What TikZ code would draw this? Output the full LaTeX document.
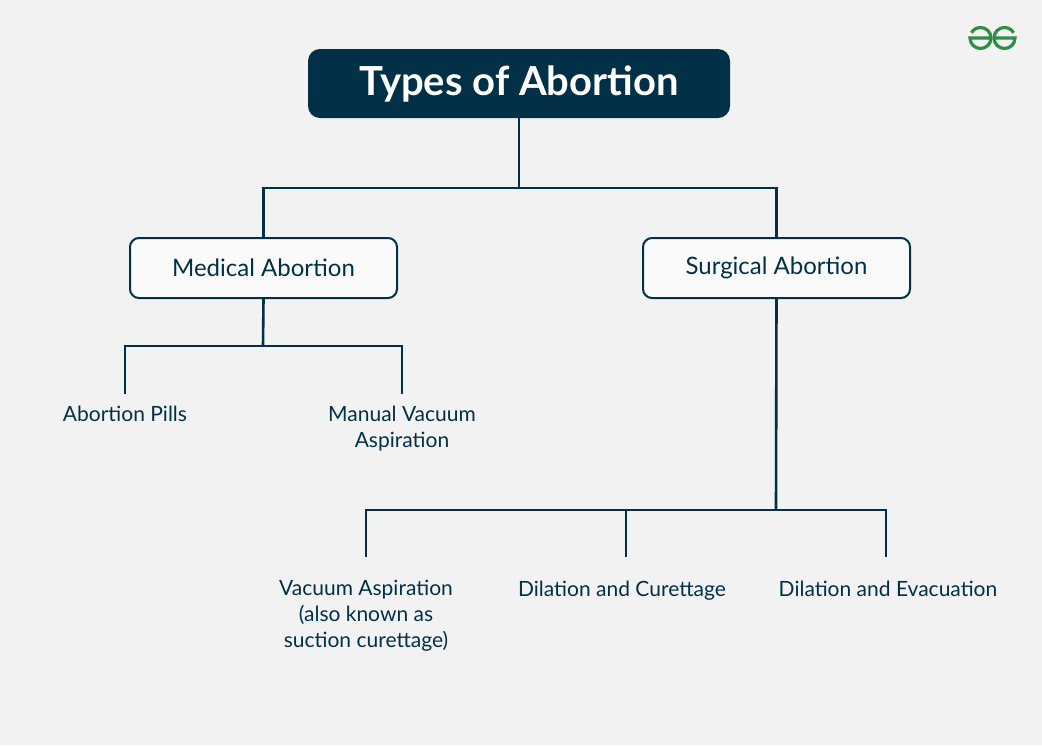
\documentclass[tikz,border=0pt]{standalone}
\usepackage{fontspec}
\setmainfont{Lato}
\definecolor{navy}{HTML}{023047}
\definecolor{bg}{HTML}{F2F2F2}
\definecolor{gfg}{HTML}{2F8D46}
\begin{document}
\begin{tikzpicture}[x=1pt,y=-1pt,
  ln/.style={navy,line width=2.6pt},
  box/.style={draw=navy,line width=2pt,rounded corners=9pt,fill=white!60!bg,minimum width=267pt,minimum height=60pt,font=\fontsize{24}{28}\selectfont,text=navy,inner sep=0},
  lbl/.style={text=navy,font=\fontsize{21}{26}\selectfont,align=center,anchor=north}]
\fill[bg] (0,0) rectangle (1042,745);
\useasboundingbox (0,0) rectangle (1042,745);
\node[fill=navy,rounded corners=12pt,minimum width=422pt,minimum height=69pt,text=white,font=\fontsize{40}{44}\selectfont\bfseries,inner sep=0] (t) at (519,83.5) {Types of Abortion};
\node[box] (m) at (263.5,268) {Medical Abortion};
\node[box] (s) at (776.5,268) {Surgical Abortion};
\coordinate (j1) at (519,188);
\draw[ln] (t.south) -- (j1);
\draw[ln] (m.north) |- (j1) -| (s.north);
\coordinate (j2) at (263,346);
\coordinate (a1) at (125,394);
\coordinate (a2) at (402,394);
\draw[ln] (m.south) -- (j2);
\draw[ln] (a1) |- (j2) -| (a2);
\node[lbl] (p1) at (125,402) {Abortion Pills};
\node[lbl] (p2) at (402,402) {Manual Vacuum\\Aspiration};
\coordinate (j3) at (776,510);
\coordinate (b1) at (366,557);
\coordinate (b2) at (626,557);
\coordinate (b3) at (886,557);
\draw[ln] (s.south) -- (j3);
\draw[ln] (b1) |- (j3) -| (b3);
\draw[ln] (b2) -- (626,510);
\node[lbl] (q1) at (366,577) {Vacuum Aspiration\\(also known as\\suction curettage)};
\node[lbl] (q2) at (622,577) {Dilation and Curettage};
\node[lbl] (q3) at (888,577) {Dilation and Evacuation};
% logo
\begin{scope}[gfg,line width=3.2pt]
\draw (991,38) -- (970,38) arc[start angle=180,end angle=-150,radius=10.5];
\draw (994,38) -- (1015,38) arc[start angle=0,end angle=330,radius=10.5];
\end{scope}
\end{tikzpicture}
\end{document}
